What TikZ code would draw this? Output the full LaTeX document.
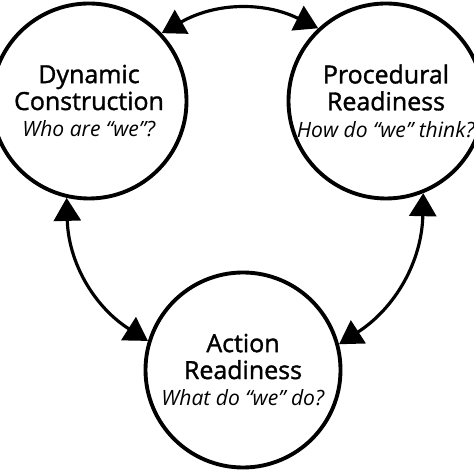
\documentclass[tikz,border=0pt]{standalone}
\usepackage{fontspec}
\setmainfont{Open Sans}
\newfontfamily\semib{Open Sans}[FakeBold=1.4]
\usetikzlibrary{arrows.meta}
\newcommand\ttl[1]{{\semib\fontsize{14.2}{15.3}\selectfont #1}}
\begin{document}
\begin{tikzpicture}[line join=round,line cap=round,
	circ/.style={circle,draw,line width=2.2pt,minimum size=3.9cm,inner sep=0pt},
	txt/.style={align=center,font=\fontsize{12}{15.3}\selectfont},
	dbl/.style={line width=1.8pt,{Triangle[length=.46cm,width=.54cm]}-{Triangle[length=.46cm,width=.54cm]}}]
	\useasboundingbox (0,0) rectangle (9.48,9.48);
	\def\bnd{28}
	\node[circ] (dc) at (1.78,7.46) {};
	\node[circ] (pr) at (7.72,7.46) {};
	\node[circ] (ar) at (4.86,2.08) {};
	\node[txt] (dct) at (dc) {\ttl{Dynamic}\\\ttl{Construction}\\\textit{Who are “we”?}};
	\node[txt] (prt) at (pr) {\ttl{Procedural}\\\ttl{Readiness}\\\textit{How do “we” think?}};
	\node[txt] (art) at (ar) {\ttl{Action}\\\ttl{Readiness}\\\textit{What do “we” do?}};
	\draw[dbl] (dc.43) to[bend left=\bnd] (pr.133);
	\draw[dbl] (dc.257) to[bend right=\bnd] (ar.163);
	\draw[dbl] (pr.292) to[bend left=\bnd] (ar.15);
\end{tikzpicture}
\end{document}
